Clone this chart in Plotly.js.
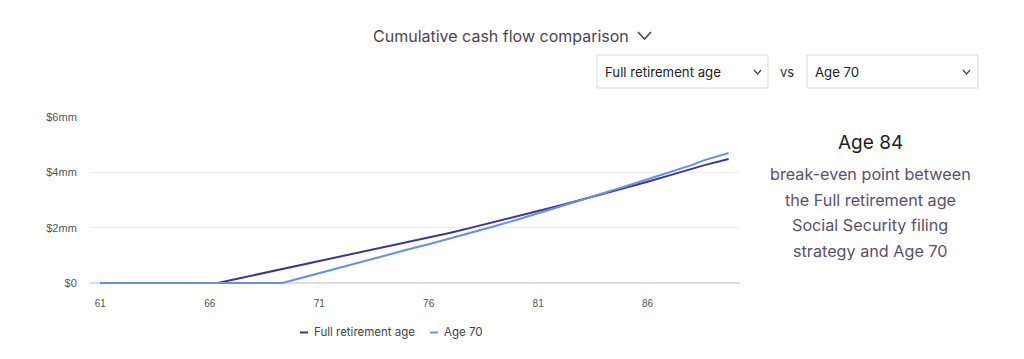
<!DOCTYPE html>
<html>
<head>
<meta charset="utf-8">
<script src="https://cdn.plot.ly/plotly-3.0.1.min.js"></script>
<style>
  html, body { margin: 0; padding: 0; background: #ffffff; }
  #chart { width: 1024px; height: 359px; }
</style>
</head>
<body>
<div id="chart"></div>
<script>
// ---- Data ----
const fraAges = [61, 62, 63, 64, 65, 66, 66.37, 67, 68, 69, 70, 71, 72, 73, 74, 75, 76, 77, 78, 79, 80, 81, 82, 83, 84, 85, 86, 87, 88, 88.6, 89.7];
const fraValues = [0, 0, 0, 0, 0, 0, 0, 110000, 280000, 450000, 620000, 790000, 960000, 1130000, 1300000, 1470000, 1640000, 1820000, 2010000, 2200000, 2400000, 2600000, 2800000, 3010000, 3220000, 3440000, 3660000, 3890000, 4120000, 4260000, 4480000];

const age70Ages = [61, 62, 63, 64, 65, 66, 67, 68, 69, 69.32, 70, 71, 72, 73, 74, 75, 76, 77, 78, 79, 80, 81, 82, 83, 84, 85, 86, 87, 88, 88.6, 89.7];
const age70Values = [0, 0, 0, 0, 0, 0, 0, 0, 0, 0, 146000, 360000, 575000, 790000, 1000000, 1200000, 1400000, 1610000, 1820000, 2050000, 2280000, 2520000, 2760000, 3000000, 3250000, 3500000, 3750000, 4000000, 4260000, 4440000, 4700000];

const seriesNames = ["Full retirement age", "Age 70"];
const xTickVals = [61, 66, 71, 76, 81, 86];
const yTickVals = [0, 2000000, 4000000, 6000000];
const yTickText = ["$0", "$2mm", "$4mm", "$6mm"];

const titleText = "Cumulative cash flow comparison";
const selectLeft = "Full retirement age";
const selectRight = "Age 70";
const vsText = "vs";
const breakEvenHead = "Age 84";
const breakEvenLines = ["break-even point between", "the Full retirement age", "Social Security filing", "strategy and Age 70"];

// ---- Layout helpers (pixel -> paper) ----
const PL = 90, PR = 740, PT = 117, PB = 285;
const px = v => (v - PL) / (PR - PL);
const py = v => (PB - v) / (PB - PT);

const darkColor = "#3d3698";
const lightColor = "#6a8cf0";
const textPurple = "#5b5168";
const uiFont = "Inter, 'Open Sans', sans-serif";

const traces = [
  { x: fraAges, y: fraValues, name: seriesNames[0], type: "scatter", mode: "lines",
    line: { color: darkColor, width: 2 }, hoverinfo: "skip", showlegend: false },
  { x: age70Ages, y: age70Values, name: seriesNames[1], type: "scatter", mode: "lines",
    line: { color: lightColor, width: 2 }, hoverinfo: "skip", showlegend: false }
];

const annotations = [
  { text: titleText, x: px(371), y: py(36), xref: "paper", yref: "paper", showarrow: false,
    xanchor: "left", yanchor: "middle", font: { family: uiFont, size: 16, color: "#4b4457" } },
  { text: selectLeft, x: px(603), y: py(72), xref: "paper", yref: "paper", showarrow: false,
    xanchor: "left", yanchor: "middle", font: { family: uiFont, size: 13.2, color: "#222222" } },
  { text: vsText, x: px(787), y: py(72), xref: "paper", yref: "paper", showarrow: false,
    xanchor: "center", yanchor: "middle", font: { family: uiFont, size: 13, color: "#333333" } },
  { text: selectRight, x: px(813), y: py(72), xref: "paper", yref: "paper", showarrow: false,
    xanchor: "left", yanchor: "middle", font: { family: uiFont, size: 13.2, color: "#222222" } },
  { text: breakEvenHead, x: px(870), y: py(142), xref: "paper", yref: "paper", showarrow: false,
    xanchor: "center", yanchor: "middle", font: { family: uiFont, size: 19, color: "#1f1f1f" } },
  // legend labels
  { text: seriesNames[0], x: px(312), y: py(332), xref: "paper", yref: "paper", showarrow: false,
    xanchor: "left", yanchor: "middle", font: { family: uiFont, size: 11.5, color: "#444444" } },
  { text: seriesNames[1], x: px(442), y: py(332), xref: "paper", yref: "paper", showarrow: false,
    xanchor: "left", yanchor: "middle", font: { family: uiFont, size: 11.5, color: "#444444" } }
];
breakEvenLines.forEach((t, i) => {
  annotations.push({ text: t, x: px(870), y: py(174 + i * 25.5), xref: "paper", yref: "paper", showarrow: false,
    xanchor: "center", yanchor: "middle", font: { family: uiFont, size: 16.2, color: textPurple } });
});

const chevron = (x0, y0, w, h) =>
  `M${px(x0)},${py(y0)} L${px(x0 + w / 2)},${py(y0 + h)} L${px(x0 + w)},${py(y0)}`;

const shapes = [
  { type: "rect", xref: "paper", yref: "paper", x0: px(597), x1: px(768), y0: py(88), y1: py(55),
    line: { color: "#dadada", width: 1 }, fillcolor: "#ffffff" },
  { type: "rect", xref: "paper", yref: "paper", x0: px(807), x1: px(978), y0: py(88), y1: py(55),
    line: { color: "#dadada", width: 1 }, fillcolor: "#ffffff" },
  { type: "path", xref: "paper", yref: "paper", path: chevron(638, 32, 13, 7),
    line: { color: "#4b4457", width: 1.6 } },
  { type: "path", xref: "paper", yref: "paper", path: chevron(754, 70, 7, 4),
    line: { color: "#444444", width: 1.2 } },
  { type: "path", xref: "paper", yref: "paper", path: chevron(963, 70, 7, 4),
    line: { color: "#444444", width: 1.2 } },
  // legend swatches
  { type: "line", xref: "paper", yref: "paper", x0: px(300), x1: px(308), y0: py(332.5), y1: py(332.5),
    line: { color: darkColor, width: 2 } },
  { type: "line", xref: "paper", yref: "paper", x0: px(430), x1: px(438), y0: py(332.5), y1: py(332.5),
    line: { color: lightColor, width: 2 } }
];

const layout = {
  width: 1024, height: 359,
  margin: { l: PL, r: 1024 - PR, t: PT, b: 359 - PB, pad: 0 },
  paper_bgcolor: "#ffffff", plot_bgcolor: "#ffffff",
  font: { family: uiFont, color: "#555555" },
  showlegend: false,
  xaxis: {
    range: [60.53, 90.22], tickvals: xTickVals, ticks: "outside", ticklen: 9,
    tickcolor: "rgba(0,0,0,0)", showgrid: false, zeroline: false, showline: false,
    tickfont: { family: "'Liberation Sans', Arial, sans-serif", size: 10, color: "#555555" }
  },
  yaxis: {
    range: [-72300, 6000000], tickvals: yTickVals, ticktext: yTickText,
    ticks: "outside", ticklen: 10, tickcolor: "rgba(0,0,0,0)",
    showgrid: true, gridcolor: "#efefef", gridwidth: 1,
    zeroline: true, zerolinecolor: "#dedede", zerolinewidth: 2, showline: false,
    tickfont: { family: "'Liberation Sans', Arial, sans-serif", size: 11, color: "#555555" }
  },
  annotations: annotations,
  shapes: shapes
};

Plotly.newPlot("chart", traces, layout, { displayModeBar: false, staticPlot: true });
</script>
</body>
</html>
